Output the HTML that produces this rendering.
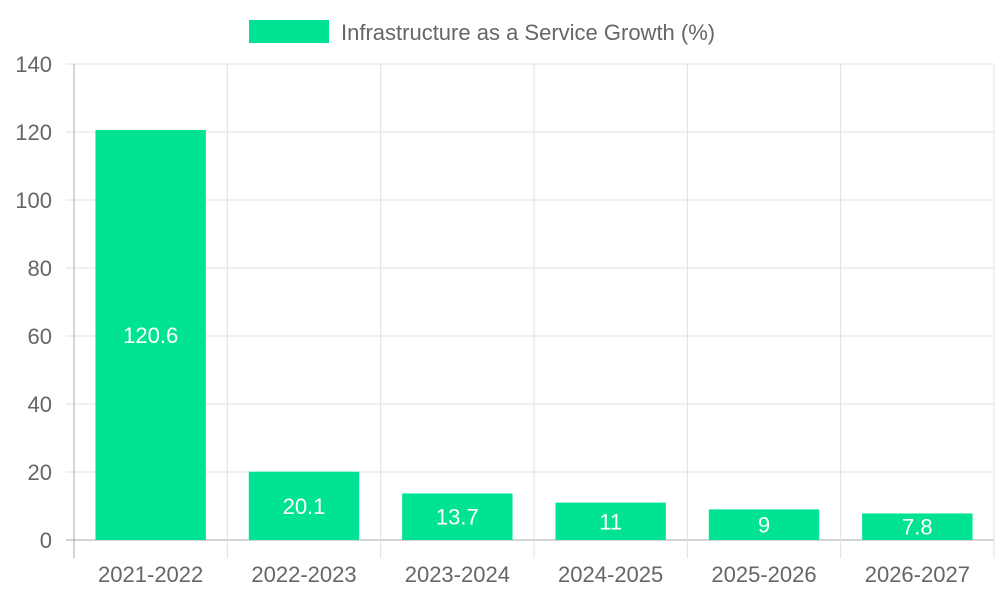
<!DOCTYPE html>
<html><head><meta charset="utf-8"><style>
body{margin:0;background:#fff;}
svg{display:block;font-family:"Liberation Sans",sans-serif;}
</style></head><body>
<svg id="chart" width="1000" height="600" viewBox="0 0 1000 600">
<g id="grid"></g>
<g id="bars"></g>
<g id="axes"></g>
<g>
<rect x="249" y="20" width="80" height="23" fill="#00e393"/>
<text x="341" y="40" font-size="22" fill="#666">Infrastructure as a Service Growth (%)</text>
</g>
</svg>
<script>
const categories=["2021-2022","2022-2023","2023-2024","2024-2025","2025-2026","2026-2027"];
const values=[120.6,20.1,13.7,11,9,7.8];
const yTicks=[0,20,40,60,80,100,120,140];
const NS="http://www.w3.org/2000/svg";
const L=74,R=994,T=64,B=540,yMax=140;
const y=v=>B-(v/yMax)*(B-T);
const bw=(R-L)/categories.length;
const x=i=>L+bw*i;
function mk(tag,attrs,parent){const e=document.createElementNS(NS,tag);for(const k in attrs)e.setAttribute(k,attrs[k]);parent.appendChild(e);return e;}
const grid=document.getElementById('grid'),bars=document.getElementById('bars'),axes=document.getElementById('axes');
yTicks.forEach(t=>{
  const ln=mk('line',{x1:L-8,x2:R,y1:y(t),y2:y(t),stroke:t===0?'#aaa':'#e0e0e0','stroke-width':1},grid);
  
  
  const tx=mk('text',{x:52,y:y(t)+8,'text-anchor':'end','font-size':22,fill:'#666'},axes);
  tx.textContent=t;
  
  
});
for(let i=0;i<=categories.length;i++){
  const ln=mk('line',{x1:x(i),x2:x(i),y1:T,y2:B+18,stroke:i===0?'#aaa':'#e0e0e0','stroke-width':1},grid);
  
  
}
categories.forEach((c,i)=>{
  const cx=x(i)+bw/2,w=bw*0.72,v=values[i];
  const r=mk('rect',{x:cx-w/2,y:y(v),width:w,height:B-y(v),fill:'#00e393'},bars);
  
  
  const lb=mk('text',{x:cx,y:(y(v)+B)/2+8,'text-anchor':'middle','font-size':22,fill:'#fff'},bars);
  lb.textContent=v;
  
  
  const xl=mk('text',{x:cx,y:582,'text-anchor':'middle','font-size':22,fill:'#666'},axes);
  xl.textContent=c;
  
  
});
</script>
</body></html>
